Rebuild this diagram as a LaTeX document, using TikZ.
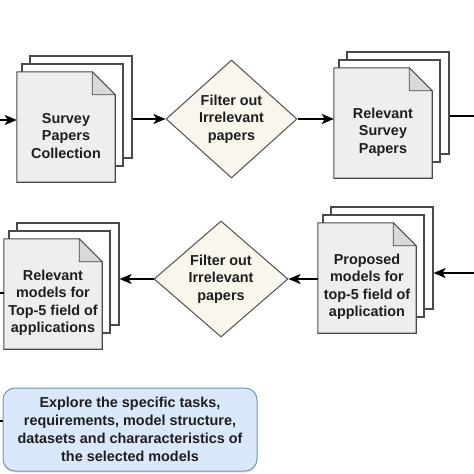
\documentclass[tikz,border=0pt]{standalone}
\usepackage{fontspec}
\setmainfont{Liberation Sans}
\usetikzlibrary{arrows.meta, shapes.geometric, shadows}
\definecolor{pageline}{HTML}{4A4A4A}
\definecolor{pagefill}{HTML}{EEEEEE}
\definecolor{foldfill}{HTML}{D9D9D9}
\definecolor{diamline}{HTML}{505050}
\definecolor{diamfill}{HTML}{F9F7ED}
\definecolor{boxline}{HTML}{7A94B8}
\definecolor{boxfill}{HTML}{DAE8FC}
\definecolor{inktext}{HTML}{1E1E1E}
\tikzstyle{sheet}=[draw=pageline, line width=1.1pt, fill=white, inner sep=0pt]
\tikzstyle{frontsheet}=[draw=pageline, line width=1.1pt, fill=pagefill]
\tikzstyle{fold}=[draw=pageline, line width=0.8pt, fill=foldfill]
\tikzstyle{doctext}=[align=center, inner sep=0pt, text=inktext, font=\bfseries\fontsize{14.4}{17.5}\selectfont]
\tikzstyle{filter}=[diamond, draw=diamline, fill=diamfill, line width=1pt, inner sep=0pt, align=center, text=inktext, font=\bfseries\fontsize{14.4}{17.5}\selectfont]
\tikzstyle{explore}=[draw=boxline, fill=boxfill, line width=1pt, rounded corners=12pt, align=center, text=inktext, font=\bfseries\fontsize{14.4}{17.8}\selectfont, minimum width=254pt, minimum height=83pt, drop shadow={opacity=0.25, shadow xshift=0pt, shadow yshift=-1.5pt}]
\tikzstyle{flow}=[line width=2pt, -{Stealth[length=12pt, width=10pt, inset=3pt]}]
\tikzstyle{stub}=[line width=1.5pt]

\begin{document}
\begin{tikzpicture}[x=1pt, y=-1pt]
    \useasboundingbox (0,0) rectangle (474,474);
    % document stacks
    \foreach \x/\y/\n/\t in {17/72/s1/{Survey\\Papers\\Collection}, 334/68/s2/{Relevant\\Survey\\Papers}, 4/239/s3/{Relevant\\models for\\Top-5 field of\\applications}, 318/223/s4/{Proposed\\models for\\top-5 field of\\application}} {
        \node[sheet, minimum width=102pt, minimum height=102pt] (\n-b) at (\x+64, \y+35) {};
        \node[sheet, minimum width=101pt, minimum height=102pt] (\n-m) at (\x+55.5, \y+43) {};
        \node[inner sep=0pt, minimum width=98pt, minimum height=110pt] (\n) at (\x+49, \y+55) {};
        \draw[frontsheet] (\n.north west) -- ([xshift=-23pt]\n.north east) -- ([yshift=-23pt]\n.north east) -- (\n.south east) -- (\n.south west) -- cycle;
        \draw[fold] ([xshift=-23pt]\n.north east) -- ([xshift=-23pt, yshift=-23pt]\n.north east) -- ([yshift=-23pt]\n.north east) -- cycle;
        \node[doctext] (\n-t) at ([yshift=-9pt]\n.center) {\t};
    }
    % filters
    \node[filter, minimum width=131pt, minimum height=118pt] (d1) at (231.5, 119) {Filter out\\Irrelevant\\papers};
    \node[filter, minimum width=134pt, minimum height=116pt] (d2) at (221, 279) {Filter out\\Irrelevant\\papers};
    \node[explore] (ex) at (130, 429.5) {Explore the specific tasks,\\requirements, model structure,\\datasets and chararacteristics of\\the selected models};
    % connectors
    \coordinate (in1) at (0, 120);
    \coordinate (out1) at (474, 116);
    \coordinate (in2) at (474, 273);
    \coordinate (out2) at (0, 293);
    \coordinate (in3) at (0, 421);
    \draw[flow] (in1) -- (in1 -| s1.west);
    \draw[flow] (s1-b.east |- d1) -- (d1.west);
    \draw[flow] (d1.east) -- (d1 -| s2.west);
    \draw[line width=2pt] (out1 -| s2-b.east) -- (out1);
    \draw[flow] (in2) -- (in2 -| s4-b.east);
    \draw[flow] (s4.west |- d2) -- (d2.east);
    \draw[flow] (d2.west) -- (d2 -| s3-b.east);
    \draw[stub] (out2 -| s3.west) -- (out2);
    \draw[stub] (in3) -- (in3 -| ex.west);
\end{tikzpicture}
\end{document}
